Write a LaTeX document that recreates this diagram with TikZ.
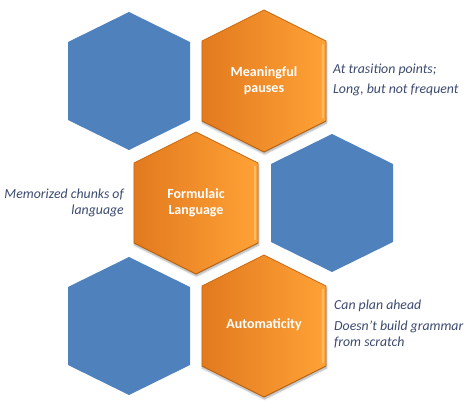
\documentclass[tikz,border=0pt]{standalone}
\usepackage{fontspec}
\setmainfont{Carlito}
\usetikzlibrary{shadows.blur}
\definecolor{hexblue}{HTML}{4F81BD}
\definecolor{orL}{HTML}{E27A1F}
\definecolor{orR}{HTML}{FFA236}
\definecolor{orEdge}{HTML}{C9690F}
\definecolor{orHi}{HTML}{FFC870}
\definecolor{txt}{HTML}{3B4A6E}
\begin{document}
\begin{tikzpicture}[x=1pt,y=-1pt,
  lbl/.style={text=white,font=\bfseries\fontsize{14}{16}\selectfont,align=center,inner sep=0pt},
  side/.style={text=txt,font=\itshape\fontsize{13.8}{16}\selectfont,inner sep=0pt},
  bluehex/.pic={\fill[hexblue] (0,-69) -- (61,-39) -- (61,39) -- (0,69) -- (-61,39) -- (-61,-39) -- cycle;},
  orangehex/.pic={
    \path[draw=orEdge,line width=0.8pt,left color=orL,right color=orR,
      blur shadow={shadow xshift=0.5pt,shadow yshift=-2pt,shadow blur steps=6,shadow opacity=35}]
      (0,-71) -- (62,-40) -- (62,40) -- (0,71) -- (-62,40) -- (-62,-40) -- cycle;
    \draw[orHi,line width=2pt,opacity=0.7] (58.5,-37) -- (58.5,37);
    \draw[orEdge!80!black,line width=0.6pt,opacity=0.5] (-62,40) -- (0,71) -- (62,40);
  }]
\useasboundingbox (0,0) rectangle (474,412);
% hexagons
\pic at (129,81) {bluehex};
\pic at (264,81) {orangehex};
\pic at (196,203) {orangehex};
\pic at (332,203) {bluehex};
\pic at (129,326) {bluehex};
\pic at (264,326) {orangehex};
% hexagon labels
\node[lbl] (mp) at (264,81) {Meaningful\\pauses};
\node[lbl] (fl) at (196,203) {Formulaic\\Language};
\node[lbl] (au) at (264,325) {Automaticity};
% side texts
\node[side,anchor=west] (t1) at (333,70) {At trasition points;};
\node[side,anchor=west] (t2) at (333,90) {Long, but not frequent};
\node[side,anchor=east,align=right] (t3) at (124,203) {Memorized chunks of\\language};
\node[side,anchor=west] (t4) at (334,306) {Can plan ahead};
\node[side,anchor=west,align=left] (t5) at (334,335) {Doesn't build grammar\\from scratch};
\end{tikzpicture}
\end{document}
